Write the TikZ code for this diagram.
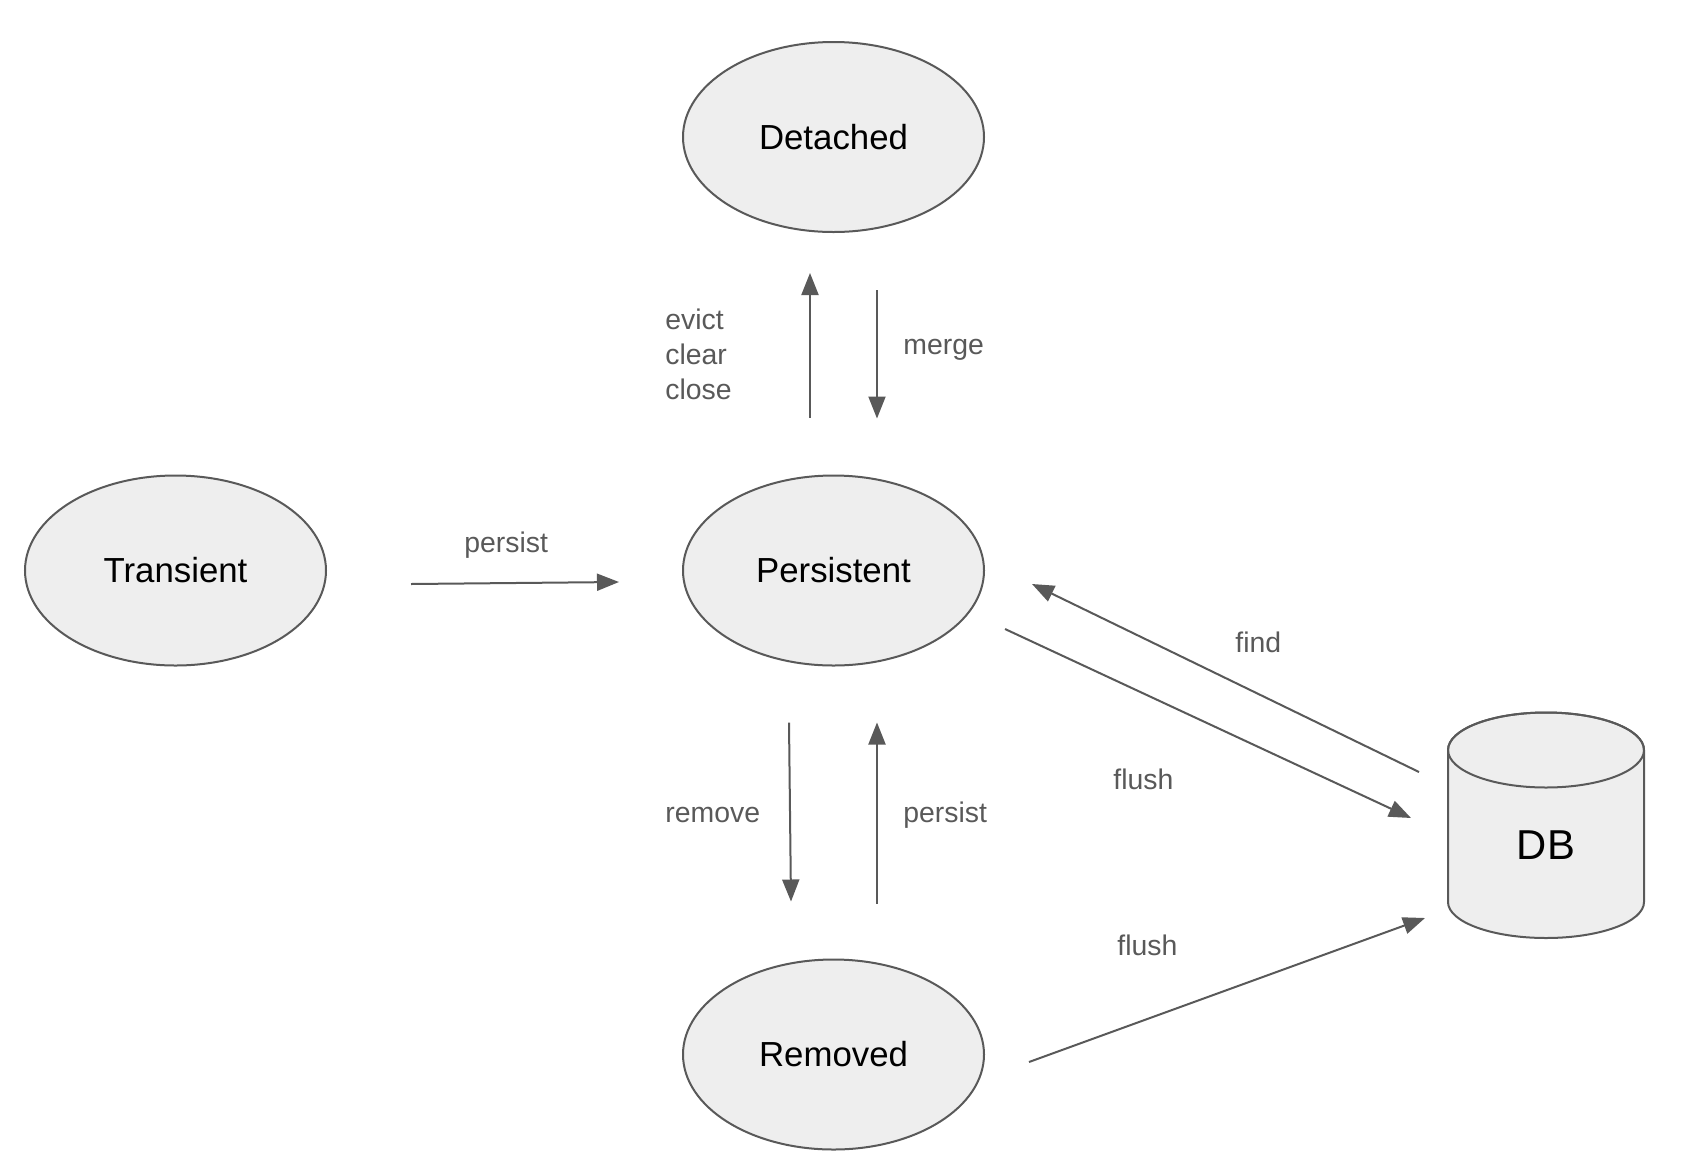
\documentclass[tikz,border=0pt]{standalone}
\usepackage{fontspec}
\setmainfont{Liberation Sans}
\usepackage{xcolor}
\usepackage{tikz}
\usetikzlibrary{calc,shapes.geometric,arrows.meta}
\definecolor{linegrey}{HTML}{595959}
\definecolor{fillgrey}{HTML}{EEEEEE}

\begin{document}
\begin{tikzpicture}[x=0.5pt, y=-0.5pt,
  state/.style={ellipse, draw=linegrey, fill=fillgrey, line width=1pt, inner sep=0pt,
    minimum width=150.5pt, minimum height=95pt, font=\fontsize{17.4}{21}\selectfont},
  trans/.style={draw=linegrey, line width=1pt, -{Triangle[length=11pt,width=8.5pt]}},
  lbl/.style={text=linegrey, inner sep=0pt, font=\fontsize{14.2}{17.5}\selectfont}]
\useasboundingbox (0,0) rectangle (1692,1168);
\node[state] (det) at (833.5,137) {Detached};
\node[state] (per) at (833.5,570.5) {Persistent};
\node[state] (tra) at (175.5,570.5) {Transient};
\node[state] (rem) at (833.5,1054.5) {Removed};
\filldraw[draw=linegrey, fill=fillgrey, line width=1pt] (1448,750) -- (1448,902)
  arc [start angle=180, end angle=0, x radius=98, y radius=36] -- (1644,750)
  arc [start angle=0, end angle=-180, x radius=98, y radius=37.5] -- cycle;
\draw[linegrey, line width=1pt] (1546,750) ellipse [x radius=98, y radius=37.5];
\node[inner sep=0pt, font=\fontsize{20.9}{25}\selectfont] (db) at (1546,845.5) {DB};
\draw[trans] ($(tra.east)+(84,13.5)$) -- ($(per.west)+(-63,11.5)$);
\draw[trans] ($(per.north)+(-23.5,-57)$) -- ($(det.south)+(-23.5,40)$);
\draw[trans] ($(det.south)+(43.5,57)$) -- ($(per.north)+(43.5,-56)$);
\draw[trans] ($(per.south)+(-44.5,56)$) -- ($(rem.north)+(-42.5,-57)$);
\draw[trans] ($(rem.north)+(43.5,-55)$) -- ($(per.south)+(43.5,56)$);
\draw[trans] ($(per.east)+(20,58.5)$) -- ($(db)+(-135,-27.5)$);
\draw[trans] ($(db)+(-127,-73.5)$) -- ($(per.east)+(47,13.5)$);
\draw[trans] ($(rem.east)+(44,7.5)$) -- ($(db)+(-121,72.5)$);
\node[lbl, anchor=base west] (l1) at (464,552) {persist};
\node[lbl, anchor=west, align=left] (l2) at (665,354) {evict\\clear\\close};
\node[lbl, anchor=base west] (l3) at (903,354) {merge};
\node[lbl, anchor=base west] (l4) at (665,822) {remove};
\node[lbl, anchor=base west] (l5) at (903,822) {persist};
\node[lbl, anchor=base west] (l6) at (1235,652) {find};
\node[lbl, anchor=base west] (l7) at (1113,789) {flush};
\node[lbl, anchor=base west] (l8) at (1117,955) {flush};
\end{tikzpicture}
\end{document}
